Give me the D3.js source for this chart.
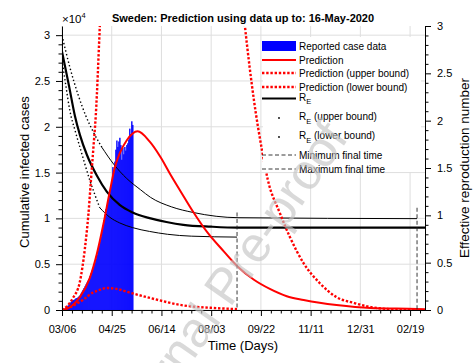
<!DOCTYPE html>
<html>
<head>
<meta charset="utf-8">
<script src="https://cdn.jsdelivr.net/npm/d3@7"></script>
<style>
body { margin: 0; background: #fff; }
svg { display: block; }
</style>
</head>
<body>
<svg id="chart" width="474" height="363"></svg>
<script>
// x axis: days since 06-Mar-2020
const xTickDays = [0, 50, 100, 150, 200, 250, 300, 350];
const xTickLabels = ["03/06", "04/25", "06/14", "08/03", "09/22", "11/11", "12/31", "02/19"];
const leftTicks = [0, 0.5, 1, 1.5, 2, 2.5, 3];
const rightTicks = [0, 0.5, 1, 1.5, 2, 2.5, 3];

// reported cases (x10^4), one value per day from 03/06 to 05/16
const reportedCases = [
  0.00, 0.01, 0.01, 0.02, 0.03, 0.04, 0.05, 0.06, 0.08, 0.09,
  0.10, 0.11, 0.11, 0.12, 0.13, 0.13, 0.14, 0.15, 0.16, 0.18,
  0.20, 0.22, 0.24, 0.26, 0.28, 0.30, 0.32, 0.34, 0.37, 0.40,
  0.43, 0.46, 0.49, 0.52, 0.56, 0.60, 0.65, 0.70, 0.75, 0.80,
  0.86, 0.92, 0.98, 1.04, 1.10, 1.14, 1.20, 1.25, 1.30, 1.36,
  1.42, 1.56, 1.50, 1.62, 1.75, 1.85, 1.78, 1.84, 1.88, 1.80,
  1.64, 1.77, 1.70, 1.78, 1.74, 1.80, 1.82, 1.86, 1.98, 1.92,
  2.06, 2.02
];

// [day, cases x10^4]
const prediction = [[0, 0], [8, 0.03], [18, 0.14], [28, 0.35], [35, 0.61], [41.5, 0.93],
  [48, 1.29], [53, 1.55], [58, 1.71], [65, 1.85], [76, 1.95], [88, 1.84], [99, 1.67],
  [109, 1.48], [119, 1.30], [132, 1.07], [146, 0.85], [161, 0.66], [177, 0.47],
  [193, 0.33], [209, 0.23], [226, 0.15], [243, 0.11], [259, 0.08], [276, 0.055],
  [310, 0.022], [357, 0.011], [365, 0.008]];
const predUpper = [[0, 0], [5, 0.04], [11, 0.13], [18, 0.31], [23, 0.67], [26.5, 1.04],
  [29, 1.40], [31.5, 1.76], [34, 2.13], [38, 3.09], [40, 3.6], [110, null], [181, 3.4],
  [184, 3.09], [193, 2.29], [201, 1.75], [207, 1.42], [219, 1.06], [229, 0.80],
  [243, 0.51], [259, 0.295], [276, 0.14], [294, 0.076], [310, 0.033], [327, 0.011], [357, 0]];
const predLower = [[0, 0], [10, 0.04], [18, 0.09], [21, 0.11], [31, 0.19], [38, 0.22],
  [45, 0.24], [55, 0.23], [68, 0.19], [89, 0.13], [122, 0.05], [156, 0.02], [176, 0.01]];

// [day, effective reproduction number]
const rE = [[0, 2.73], [7, 2.37], [13, 2.05], [18, 1.85], [25, 1.64], [35, 1.42], [45, 1.25],
  [58, 1.11], [71, 1.03], [88, 0.97], [105, 0.93], [122, 0.90], [150, 0.88], [177, 0.87], [365, 0.87]];
const rEUpper = [[0, 2.90], [8, 2.56], [16, 2.28], [24, 2.05], [32, 1.87], [40, 1.72], [52, 1.54],
  [65, 1.39], [79, 1.27], [89, 1.19], [110, 1.09], [132, 1.03], [155, 0.99], [177, 0.975], [357, 0.965]];
const rELower = [[0, 2.64], [4, 2.36], [8, 2.10], [13, 1.90], [18, 1.72], [28, 1.37], [38, 1.08],
  [48, 0.98], [58, 0.92], [71, 0.87], [88, 0.83], [106, 0.80], [130, 0.78], [176, 0.77]];

// [day, top of dashed marker in R units]
const finalTimes = [[176, 1.03], [357, 1.08]];

const FONT = '"Liberation Sans", Arial, Helvetica, sans-serif';
const RED = "#ff0000";
const BLUE = "#0000ff";

const chart = {};
chart.left = 62;
chart.right = 425;
chart.top = 26;
chart.bottom = 310;

const svg = d3.select("#chart").attr("font-family", FONT);

const x = d3.scaleLinear().domain([0, 365]).range([chart.left, chart.right]);
const yL = d3.scaleLinear().domain([0, 3.1]).range([chart.bottom, chart.top]);
const yR = d3.scaleLinear().domain([0, 3]).range([chart.bottom, chart.top]);

svg.append("defs").append("clipPath").attr("id", "plotclip")
  .append("rect")
  .attr("x", chart.left).attr("y", chart.top)
  .attr("width", chart.right - chart.left).attr("height", chart.bottom - chart.top);

// grid
const grid = svg.append("g").attr("stroke", "#dedede").attr("stroke-width", 1);
grid.selectAll(".gx").data(xTickDays).join("line")
  .attr("x1", d => x(d)).attr("x2", d => x(d))
  .attr("y1", chart.top).attr("y2", chart.bottom);
grid.selectAll(".gy").data(leftTicks).join("line")
  .attr("x1", chart.left).attr("x2", chart.right)
  .attr("y1", d => yL(d)).attr("y2", d => yL(d));

const plot = svg.append("g").attr("clip-path", "url(#plotclip)");

// reported case bars
plot.append("g").selectAll("rect").data(reportedCases).join("rect")
  .attr("x", (d, i) => x(i - 0.5))
  .attr("width", (d, i) => x(i + 0.5) - x(i - 0.5) + 0.4)
  .attr("y", d => yL(d))
  .attr("height", d => yL(0) - yL(d))
  .attr("fill", BLUE);

const lineL = d3.line()
  .defined(d => d[1] !== null)
  .x(d => x(d[0])).y(d => yL(d[1]))
  .curve(d3.curveMonotoneX);
const lineR = d3.line()
  .x(d => x(d[0])).y(d => yR(d[1]))
  .curve(d3.curveMonotoneX);

function addPath(data, gen, stroke, width, dash) {
  const p = plot.append("path")
    .attr("d", gen(data))
    .attr("fill", "none")
    .attr("stroke", stroke)
    .attr("stroke-width", width);
  if (dash) p.attr("stroke-dasharray", dash);
  return p;
}

// R_E bounds: dots, which merge into a thin line where the curve flattens
addPath(rEUpper.filter(d => d[0] <= 40), lineR, "#000", 1.4, "1.4 2.4");
addPath(rEUpper.filter(d => d[0] >= 40), lineR, "#000", 1);
addPath(rELower.filter(d => d[0] <= 38), lineR, "#000", 1.4, "1.4 2.4");
addPath(rELower.filter(d => d[0] >= 38), lineR, "#000", 1);
addPath(rE, lineR, "#000", 2.2);

// predictions
addPath(prediction, lineL, RED, 2);
addPath(predUpper, lineL, RED, 2.4, "2.4 1.8");
addPath(predLower, lineL, RED, 2.4, "2.4 1.8");

// final time markers
plot.append("g").selectAll("line").data(finalTimes).join("line")
  .attr("x1", d => x(d[0])).attr("x2", d => x(d[0]))
  .attr("y1", d => yR(d[1])).attr("y2", yR(0))
  .attr("stroke", "#222").attr("stroke-width", 0.9)
  .attr("stroke-dasharray", "4 2.5");

// axes
const minorDays = d3.range(0, 361, 10).filter(d => d % 50 !== 0);
const minorY = d3.range(1, 31).map(d => d / 10).filter(d => Math.round(d * 10) % 5 !== 0);

function styleAxis(g) {
  g.attr("font-family", FONT).attr("font-size", 11);
  g.selectAll("text").attr("fill", "#000");
  g.selectAll("line, path").attr("stroke", "#000");
}

svg.append("g")
  .attr("transform", "translate(0," + chart.bottom + ")")
  .call(d3.axisBottom(x).tickValues(minorDays).tickSize(3.5).tickFormat("").tickSizeOuter(0))
  .call(g => g.select(".domain").remove())
  .call(styleAxis);
svg.append("g")
  .attr("transform", "translate(0," + chart.bottom + ")")
  .call(d3.axisBottom(x).tickValues(xTickDays).tickFormat((d, i) => xTickLabels[i])
    .tickSize(6).tickPadding(9).tickSizeOuter(0))
  .call(styleAxis);

svg.append("g")
  .attr("transform", "translate(" + chart.left + ",0)")
  .call(d3.axisLeft(yL).tickValues(minorY).tickSize(3.5).tickFormat("").tickSizeOuter(0))
  .call(g => g.select(".domain").remove())
  .call(styleAxis);
svg.append("g")
  .attr("transform", "translate(" + chart.left + ",0)")
  .call(d3.axisLeft(yL).tickValues(leftTicks).tickFormat(d => String(d))
    .tickSize(6).tickPadding(6).tickSizeOuter(0))
  .call(styleAxis);

svg.append("g")
  .attr("transform", "translate(" + chart.right + ",0)")
  .call(d3.axisRight(yR).tickValues(minorY).tickSize(3.5).tickFormat("").tickSizeOuter(0))
  .call(g => g.select(".domain").remove())
  .call(styleAxis);
svg.append("g")
  .attr("transform", "translate(" + chart.right + ",0)")
  .call(d3.axisRight(yR).tickValues(rightTicks).tickFormat(d => String(d))
    .tickSize(6).tickPadding(6).tickSizeOuter(0))
  .call(styleAxis);

// exponent
const expo = svg.append("text").attr("x", 62).attr("y", 23).attr("font-size", 11.5).attr("fill", "#000");
expo.append("tspan").text("\u00d710");
expo.append("tspan").attr("font-size", 7.5).attr("dy", -5).text("4");

// titles
svg.append("text").attr("x", 243).attr("y", 22)
  .attr("text-anchor", "middle").attr("font-size", 11).attr("font-weight", "bold")
  .text("Sweden: Prediction using data up to: 16-May-2020");
svg.append("text").attr("x", 243).attr("y", 350)
  .attr("text-anchor", "middle").attr("font-size", 13)
  .text("Time (Days)");
svg.append("text").attr("transform", "translate(28.5,172) rotate(-90)")
  .attr("text-anchor", "middle").attr("font-size", 13)
  .text("Cumulative infected cases");
svg.append("text").attr("transform", "translate(469,168) rotate(-90)")
  .attr("text-anchor", "middle").attr("font-size", 13.5)
  .text("Effective reproduction number");

// legend
const legend = svg.append("g").attr("font-size", 10);
legend.append("rect").attr("x", 263).attr("y", 37).attr("width", 158).attr("height", 135)
  .attr("fill", "#fff");
const lx0 = 262, lx1 = 296, tx = 299;
const rows = [46, 60, 73, 87, 98.5, 118, 137, 155, 169];

legend.append("rect").attr("x", lx0).attr("y", rows[0] - 5).attr("width", lx1 - lx0).attr("height", 10)
  .attr("fill", BLUE);
function legendLine(yy, stroke, width, dash) {
  const l = legend.append("line").attr("x1", lx0).attr("x2", lx1).attr("y1", yy).attr("y2", yy)
    .attr("stroke", stroke).attr("stroke-width", width);
  if (dash) l.attr("stroke-dasharray", dash);
}
legendLine(rows[1], RED, 2);
legendLine(rows[2], RED, 2.4, "2.4 1.8");
legendLine(rows[3], RED, 2.4, "2.4 1.8");
legendLine(rows[4], "#000", 2.2);
legend.append("circle").attr("cx", 279).attr("cy", rows[5]).attr("r", 0.9).attr("fill", "#000");
legend.append("circle").attr("cx", 279).attr("cy", rows[6]).attr("r", 0.9).attr("fill", "#000");
legendLine(rows[7], "#222", 0.9, "4 2.5");
legendLine(rows[8], "#222", 0.9, "4 2.5");

const labels = ["Reported case data", "Prediction", "Prediction (upper bound)", "Prediction (lower bound)"];
labels.forEach((t, i) => {
  legend.append("text").attr("x", tx).attr("y", rows[i] + 3.6).text(t);
});
function rLabel(yy, rest) {
  const t = legend.append("text").attr("x", tx).attr("y", yy + 2);
  t.append("tspan").text("R");
  t.append("tspan").attr("font-size", 7.5).attr("dy", 3.5).text("E");
  if (rest) t.append("tspan").attr("dy", -3.5).text(" " + rest);
}
rLabel(rows[4], "");
rLabel(rows[5], "(upper bound)");
rLabel(rows[6], "(lower bound)");
legend.append("text").attr("x", tx).attr("y", rows[7] + 3.6).text("Minimum final time");
legend.append("text").attr("x", tx).attr("y", rows[8] + 3.6).text("Maximum final time");

// watermark
svg.append("text")
  .attr("transform", "translate(128,454) rotate(-55)")
  .attr("font-size", 50)
  .attr("fill", "#c4c4c4")
  .attr("fill-opacity", 0.65)
  .text("Journal Pre-proof");
</script>
</body>
</html>
